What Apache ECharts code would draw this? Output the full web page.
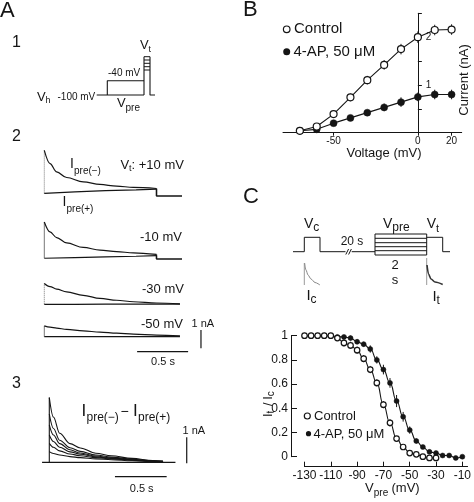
<!DOCTYPE html>
<html><head><meta charset="utf-8">
<script src="https://cdn.jsdelivr.net/npm/echarts@6/dist/echarts.min.js"></script>
<style>html,body{margin:0;padding:0;background:#fff}#c{width:474px;height:502px}</style>
</head><body><div id="c"></div>
<script>
const FONT = "'Liberation Sans', Arial, Helvetica, sans-serif";
const INK = '#151515';

// ---------- Panel B: I-V relation ----------
const ivVoltage = [-70, -60, -50, -40, -30, -20, -10, 0, 10, 20];
const ivControl = [0.04, 0.13, 0.39, 0.74, 1.10, 1.42, 1.75, 2.00, 2.15, 2.16];
const ivControlSem = [0.02, 0.03, 0.06, 0.08, 0.09, 0.10, 0.11, 0.12, 0.11, 0.11];
const iv4AP = [0.04, 0.07, 0.20, 0.31, 0.42, 0.53, 0.64, 0.75, 0.80, 0.80];
const iv4APSem = [0.02, 0.02, 0.04, 0.05, 0.06, 0.08, 0.10, 0.09, 0.10, 0.10];
const ivXTicks = [-50, 0, 20];
const ivYLabels = [1, 2];

// ---------- Panel C: steady-state inactivation ----------
const inactVoltage = [-130, -125, -120, -115, -110, -105, -100, -95, -90, -85, -80, -75, -70, -65, -60, -55, -50, -45, -40, -35, -30, -25, -20, -15, -10];
const inactControl = [1.0, 1.0, 1.0, 1.0, 1.0, 0.98, 0.94, 0.92, 0.88, 0.81, 0.72, 0.61, 0.43, 0.28, 0.15, 0.08, 0.03, 0.02, 0.0, -0.01, -0.01];
const inactControlSem = [0, 0, 0, 0, 0, 0.01, 0.03, 0.03, 0.03, 0.03, 0.03, 0.03, 0.03, 0.03, 0.02, 0.01, 0.01, 0, 0, 0, 0];
const inact4AP = [1.0, 1.0, 1.0, 1.0, 1.0, 0.99, 0.99, 0.98, 0.95, 0.93, 0.89, 0.80, 0.72, 0.61, 0.46, 0.33, 0.22, 0.13, 0.08, 0.04, 0.03, 0.01, 0.01, -0.01, 0.0];
const inact4APSem = [0, 0, 0, 0, 0, 0.01, 0.01, 0.02, 0.02, 0.02, 0.03, 0.03, 0.04, 0.04, 0.05, 0.04, 0.03, 0.02, 0.01, 0.01, 0.01, 0, 0, 0, 0];
const inactXTicks = [-130, -110, -90, -70, -50, -30, -10];

// ---------- Panel A2: raw traces (time s, current nA) ----------
const a2Time = [0, 0.056, 0.121, 0.219, 0.382, 0.546, 0.709, 0.873, 1.10];
const a2TimeLong = [0, 0.056, 0.121, 0.219, 0.382, 0.546, 0.709, 0.873, 1.10, 1.33];
const a2PlusTime = [0, 0.3, 0.6, 0.9, 1.10];
const a2PlusTimeLong = [0, 0.3, 0.6, 0.9, 1.33];
const a2MinusP10 = [2.49, 1.77, 1.32, 1.01, 0.77, 0.63, 0.54, 0.47, 0.41];
const a2PlusP10 = [0.14, 0.22, 0.29, 0.34, 0.38];
const a2MinusM10 = [2.02, 1.48, 1.17, 0.88, 0.63, 0.49, 0.40, 0.34, 0.25];
const a2PlusM10 = [0.04, 0.08, 0.12, 0.15, 0.18];
const a2MinusM30 = [1.14, 0.97, 0.83, 0.68, 0.49, 0.32, 0.22, 0.14, 0.07, 0.02];
const a2PlusM30 = [0.0, 0.0, 0.01, 0.01, 0.01];
const a2MinusM50 = [0.59, 0.52, 0.47, 0.40, 0.32, 0.25, 0.19, 0.14, 0.09, 0.04];
const a2PlusM50 = [0.0, 0.0, 0.0, 0.01, 0.0];
const a2StepTime = 1.10, a2EndTime = 1.35;
const a2ScaleTime = [0.91, 1.41];     // 0.5 s
const a2ScaleTimeLevel = -0.82;
const a2ScaleCurrent = [-0.63, 0.37]; // 1 nA
const a2ScaleCurrentTime = 1.536;

// ---------- Panel A3: difference traces ----------
const a3Time = [0, 0.04, 0.1, 0.2, 0.3, 0.45, 0.6, 0.8, 1.0, 1.1];
const a3Trace1 = [2.49, 1.74, 1.12, 0.72, 0.55, 0.35, 0.25, 0.15, 0.07, 0.05];
const a3Trace2 = [1.85, 1.30, 0.85, 0.56, 0.42, 0.28, 0.20, 0.12, 0.06, 0.04];
const a3Trace3 = [1.44, 1.05, 0.72, 0.48, 0.36, 0.24, 0.17, 0.10, 0.05, 0.03];
const a3Trace4 = [1.05, 0.80, 0.58, 0.40, 0.31, 0.21, 0.15, 0.09, 0.05, 0.03];
const a3Trace5 = [0.73, 0.58, 0.44, 0.32, 0.25, 0.18, 0.13, 0.08, 0.04, 0.02];
const a3Trace6 = [0.41, 0.34, 0.28, 0.22, 0.18, 0.13, 0.10, 0.06, 0.03, 0.02];
const a3BaselineTime = [-0.07, 1.22];
const a3ScaleTime = [0.635, 1.135];
const a3ScaleTimeLevel = -0.55;
const a3ScaleCurrent = [-0.04, 0.96];
const a3ScaleCurrentTime = 1.329;

// ---------- Protocol schematics (arbitrary schematic units) ----------
const a1Baseline = [[0.7, 0], [48, 0]];
const a1Prepulse = [[11.3, 0], [11.3, 14.3], [48, 14.3]];
const a1TestLeft = [[48, 0], [48, 38.3]];
const a1TestRight = [[54, 38.3], [54, 0], [59, 0]];
const a1TestLevels = [38.3, 35, 31.7, 28.3, 25];
const a1TestSpan = [48, 54];

const cProtoVc = [[3, 38.3], [14.3, 38.3], [14.3, 52.7], [30, 52.7], [30, 38.3], [55.5, 38.3]];
const cProtoGap = [[61.7, 38.3], [85, 38.3]];
const cBreakA = [[55.8, 35.5], [58.6, 41]];
const cBreakB = [[58.6, 35.5], [61.4, 41]];
const cVpreLevels = [56, 51.7, 47.3, 43.3, 39.3, 35];
const cVpreSpan = [85, 136.7];
const cProtoVt = [[136.7, 52.7], [152.7, 52.7], [152.7, 38.3], [160, 38.3]];
const cIcOnset = [[14.3, 5], [14.3, 27]];
const cIcDecay = [[14.6, 27], [16, 20], [18, 15], [21, 11], [25, 7.5], [30, 5]];
const cItOnset = [[136.7, 5], [136.7, 32]];
const cItDecay = [[137, 25], [138.5, 16], [141, 11], [145, 8], [152.7, 5.5]];

// ================= build =================
const zip = (xs, ys) => xs.map((x, i) => [x, ys[i]]);
const grid = [], xAxis = [], yAxis = [], series = [];

function hiddenGrid(g, xr, yr) {
  grid.push(g);
  const gi = grid.length - 1;
  xAxis.push({gridIndex: gi, type: 'value', min: xr[0], max: xr[1], show: false});
  yAxis.push({gridIndex: gi, type: 'value', min: yr[0], max: yr[1], show: false});
  return gi;
}
function lineS(ai, data, o) {
  o = o || {};
  const s = {type: 'line', xAxisIndex: ai, yAxisIndex: ai, data: data, symbol: 'none', silent: true, clip: false,
    smooth: o.smooth || false, animation: false,
    lineStyle: {color: o.color || INK, width: o.width || 1.1, type: o.dash || 'solid'}, z: o.z || 3};
  if (o.smooth) s.smoothMonotone = 'x';
  return s;
}
function markerS(ai, name, xs, ys, open, size, smooth, z) {
  return {type: 'line', name: name, xAxisIndex: ai, yAxisIndex: ai, data: zip(xs, ys), symbol: 'circle',
    symbolSize: size, showSymbol: true, showAllSymbol: true, smooth: smooth, smoothMonotone: smooth ? 'x' : undefined,
    clip: false, silent: true, animation: false,
    itemStyle: {color: open ? '#fff' : INK, borderColor: INK, borderWidth: open ? 1.2 : 0.5},
    lineStyle: {color: INK, width: 1.1}, z: z};
}
function errS(ai, xs, ys, es) {
  return {type: 'custom', xAxisIndex: ai, yAxisIndex: ai, silent: true, clip: false, z: 2, animation: false,
    data: xs.map((x, i) => [x, ys[i] - es[i], ys[i] + es[i]]),
    encode: {x: 0, y: [1, 2]},
    renderItem: function (params, api) {
      const a = api.coord([api.value(0), api.value(1)]);
      const b = api.coord([api.value(0), api.value(2)]);
      return {type: 'line', shape: {x1: a[0], y1: a[1], x2: b[0], y2: b[1]}, style: {stroke: INK, lineWidth: 1}};
    }};
}

// ---- grid 0: panel B ----
const bLeft = 283, bWidth = 178.7, bXMin = -80, bXMax = 26;
grid.push({left: bLeft, top: 13.3, width: bWidth, height: 119.4});
xAxis.push({gridIndex: 0, type: 'value', min: bXMin, max: bXMax,
  axisLine: {lineStyle: {color: INK, width: 1}},
  axisTick: {show: true, customValues: ivXTicks, length: 3, lineStyle: {color: INK}},
  axisLabel: {customValues: ivXTicks, fontSize: 10, fontFamily: FONT, color: INK, margin: 4},
  splitLine: {show: false}});
yAxis.push({gridIndex: 0, type: 'value', min: 0, max: 2.5, interval: 0.5, position: 'left',
  offset: -(0 - bXMin) * bWidth / (bXMax - bXMin),
  axisLine: {show: true, onZero: false, lineStyle: {color: INK, width: 1}},
  axisTick: {show: true, inside: true, length: 4, lineStyle: {color: INK}},
  axisLabel: {inside: true, margin: 8, fontSize: 10, fontFamily: FONT, color: INK,
    formatter: v => ivYLabels.indexOf(v) >= 0 ? String(v) : ''},
  splitLine: {show: false}});
series.push(errS(0, ivVoltage, iv4AP, iv4APSem));
series.push(errS(0, ivVoltage, ivControl, ivControlSem));
series.push(markerS(0, '4-AP, 50 μM', ivVoltage, iv4AP, false, 7, false, 4));
series.push(markerS(0, 'Control', ivVoltage, ivControl, true, 7, false, 5));

// ---- grid 1: panel C inactivation ----
grid.push({left: 304.5, top: 335.7, width: 170.5, height: 121});
xAxis.push({gridIndex: 1, type: 'value', min: -130, max: -6, offset: 10,
  axisLine: {onZero: false, lineStyle: {color: INK, width: 1}},
  axisTick: {show: true, inside: true, length: 5, customValues: inactXTicks, lineStyle: {color: INK}},
  axisLabel: {customValues: inactXTicks, fontSize: 12, fontFamily: FONT, color: INK, margin: 3},
  splitLine: {show: false}});
yAxis.push({gridIndex: 1, type: 'value', min: 0, max: 1, interval: 0.2, offset: 13.5,
  axisLine: {show: true, onZero: false, lineStyle: {color: INK, width: 1}},
  axisTick: {show: true, inside: true, length: 6, lineStyle: {color: INK}},
  axisLabel: {margin: 3, fontSize: 12, fontFamily: FONT, color: INK,
    formatter: v => (v === 0 ? '0' : v === 1 ? '1' : v.toFixed(1))},
  splitLine: {show: false}});
series.push(errS(1, inactVoltage, inact4AP, inact4APSem));
series.push(errS(1, inactVoltage.slice(0, inactControl.length), inactControl, inactControlSem));
series.push(markerS(1, '4-AP, 50 μM', inactVoltage, inact4AP, false, 5, true, 4));
series.push(markerS(1, 'Control', inactVoltage.slice(0, inactControl.length), inactControl, true, 5.5, true, 5));

// ---- grids 2-5: panel A2 traces ----
const a2Zero = [196, 259, 304.3, 336.7];
const a2PxPerNA = 18.3;
const a2Idx = a2Zero.map(z => hiddenGrid({left: 39.2, top: z - 2.6 * a2PxPerNA, width: 168.3, height: 3.6 * a2PxPerNA}, [-0.05, 1.6], [-1, 2.6]));
function a2Group(ai, minus, plus, longTrace, onsetDash) {
  const tm = longTrace ? a2TimeLong : a2Time;
  const tp = longTrace ? a2PlusTimeLong : a2PlusTime;
  series.push(lineS(ai, [[0, plus[0]], [0, minus[0]]], {color: '#777', width: 1, dash: onsetDash ? 'dotted' : 'solid'}));
  series.push(lineS(ai, zip(tm, minus), {smooth: 0.35, width: 1.2}));
  series.push(lineS(ai, zip(tp, plus), {width: 1.2}));
  if (!longTrace) {
    series.push(lineS(ai, [[a2StepTime, minus[minus.length - 1]], [a2StepTime, 0], [a2EndTime, 0]], {width: 1.4}));
    series.push(lineS(ai, [[a2StepTime, plus[plus.length - 1]], [a2StepTime, 0]], {width: 1.2}));
  }
}
a2Group(a2Idx[0], a2MinusP10, a2PlusP10, false, true);
a2Group(a2Idx[1], a2MinusM10, a2PlusM10, false, false);
a2Group(a2Idx[2], a2MinusM30, a2PlusM30, true, true);
a2Group(a2Idx[3], a2MinusM50, a2PlusM50, true, false);
series.push(lineS(a2Idx[3], [[a2ScaleTime[0], a2ScaleTimeLevel], [a2ScaleTime[1], a2ScaleTimeLevel]], {width: 1.2}));
series.push(lineS(a2Idx[3], [[a2ScaleCurrentTime, a2ScaleCurrent[0]], [a2ScaleCurrentTime, a2ScaleCurrent[1]]], {width: 1.2}));

// ---- grid 6: panel A3 ----
const a3Px = 26;
const a3 = hiddenGrid({left: 49.3 - 0.08 * 103.4, top: 462.3 - 2.6 * a3Px, width: 1.48 * 103.4, height: 3.3 * a3Px}, [-0.08, 1.4], [-0.7, 2.6]);
series.push(lineS(a3, [[a3BaselineTime[0], 0], [a3BaselineTime[1], 0]], {width: 1.2}));
series.push(lineS(a3, [[0, 0], [0, a3Trace1[0]]], {width: 1.1}));
[a3Trace1, a3Trace2, a3Trace3, a3Trace4, a3Trace5, a3Trace6].forEach(t => series.push(lineS(a3, zip(a3Time, t), {smooth: 0.35, width: 1.1})));
series.push(lineS(a3, [[a3ScaleTime[0], a3ScaleTimeLevel], [a3ScaleTime[1], a3ScaleTimeLevel]], {width: 1.2}));
series.push(lineS(a3, [[a3ScaleCurrentTime, a3ScaleCurrent[0]], [a3ScaleCurrentTime, a3ScaleCurrent[1]]], {width: 1.2}));

// ---- grid 7: panel A1 protocol ----
const a1 = hiddenGrid({left: 96, top: 54, width: 64, height: 41}, [0, 64], [0, 41]);
series.push(lineS(a1, a1Baseline, {width: 1.1}));
series.push(lineS(a1, a1Prepulse, {width: 1.1}));
series.push(lineS(a1, a1TestLeft, {width: 1.1}));
series.push(lineS(a1, a1TestRight, {width: 1.1}));
a1TestLevels.forEach(l => series.push(lineS(a1, [[a1TestSpan[0], l], [a1TestSpan[1], l]], {width: 1})));

// ---- grid 8: panel C protocol ----
const cp = hiddenGrid({left: 290, top: 230, width: 165, height: 60}, [0, 165], [0, 60]);
series.push(lineS(cp, cProtoVc, {width: 1}));
series.push(lineS(cp, cProtoGap, {width: 1}));
series.push(lineS(cp, cBreakA, {width: 1}));
series.push(lineS(cp, cBreakB, {width: 1}));
cVpreLevels.forEach(l => series.push(lineS(cp, [[cVpreSpan[0], l], [cVpreSpan[1], l]], {width: 1})));
series.push(lineS(cp, [[cVpreSpan[0], cVpreLevels[5]], [cVpreSpan[0], cVpreLevels[0]]], {width: 1}));
series.push(lineS(cp, [[cVpreSpan[1], cVpreLevels[5]], [cVpreSpan[1], cVpreLevels[0]]], {width: 1}));
series.push(lineS(cp, cProtoVt, {width: 1}));
series.push(lineS(cp, cIcOnset, {width: 1, color: '#999'}));
series.push(lineS(cp, cIcDecay, {width: 1, color: '#888', smooth: 0.3}));
series.push(lineS(cp, cItOnset, {width: 1, color: '#999'}));
series.push(lineS(cp, cItDecay, {width: 1.6, color: '#333', smooth: 0.3}));

// ---------- text ----------
function T(x, y, s, size, align, extra) {
  const e = {type: 'text', x: x, y: y, z: 100, silent: true,
    style: {text: s, fontSize: size, fontFamily: FONT, fill: INK,
      align: align || 'left', textAlign: align || 'left', verticalAlign: 'middle', textVerticalAlign: 'middle'}};
  if (extra) Object.assign(e, extra);
  return e;
}
function dot(x, y, r, open) {
  return {type: 'circle', z: 100, silent: true, shape: {cx: x, cy: y, r: r},
    style: {fill: open ? '#fff' : INK, stroke: INK, lineWidth: open ? 1.2 : 0}};
}
const els = [
  T(0, 11, 'A', 22), T(243, 10, 'B', 22), T(243, 197, 'C', 22),
  T(12, 43, '1', 16), T(12, 137, '2', 16), T(12, 384, '3', 16),
  // A1
  T(37, 97, 'V', 13), T(45.5, 101, 'h', 9),
  T(57.5, 97, '-100 mV', 10), T(108, 73, '-40 mV', 10),
  T(117, 103, 'V', 13), T(125.5, 108, 'pre', 10),
  T(140, 45, 'V', 13), T(148.5, 49.5, 't', 9),
  // A2
  T(70, 164, 'I', 14), T(74, 171, 'pre(−)', 10),
  T(120.5, 165, 'V', 13), T(129, 169, 't', 9), T(131.5, 165, ': +10 mV', 13),
  T(62.5, 202.5, 'I', 14), T(66.5, 209, 'pre(+)', 10),
  T(140, 237.5, '-10 mV', 13), T(142, 289.5, '-30 mV', 13), T(141, 324, '-50 mV', 13),
  T(191.5, 324, '1 nA', 11), T(163, 362, '0.5 s', 11, 'center'),
  // A3
  T(81.5, 411.5, 'I', 17), T(86.5, 417.5, 'pre(−)', 12), T(120.5, 412, '−', 14),
  T(133, 411.5, 'I', 17), T(138, 417.5, 'pre(+)', 12),
  T(182.5, 430.7, '1 nA', 11), T(141.7, 489.3, '0.5 s', 11, 'center'),
  // B
  T(384, 153, 'Voltage (mV)', 13, 'center'),
  T(464, 80, 'Current (nA)', 13, 'center', {rotation: Math.PI / 2}),
  dot(286.7, 29.3, 3.3, true), T(294, 29.3, 'Control', 15),
  dot(286.7, 51.7, 3.5, false), T(293.5, 52, '4-AP, 50 μM', 15),
  // C protocol
  T(304, 224, 'V', 14), T(313.3, 228, 'c', 12),
  T(352, 241.5, '20 s', 12, 'center'),
  T(383, 224, 'V', 14), T(392.3, 227.5, 'pre', 12),
  T(426.7, 224, 'V', 14), T(436, 228.5, 't', 11),
  T(395, 265, '2', 13, 'center'), T(395, 280, 's', 13, 'center'),
  T(306.5, 296, 'I', 15), T(310.5, 300, 'c', 12),
  T(432.5, 297, 'I', 15), T(436.5, 301, 't', 12),
  // C inactivation
  {type: 'group', x: 268, y: 404, rotation: Math.PI / 2, children: [
    T(-13, 0, 'I', 13), T(-9.4, 3.5, 't', 10), T(-5.5, 0, ' / ', 13), T(4.2, 0, 'I', 13), T(7.8, 3.5, 'c', 10)
  ]},
  T(365, 488.5, 'V', 13), T(373.8, 493.5, 'pre', 10), T(391.5, 488.5, '(mV)', 13),
  dot(307.3, 416, 3, true), T(314, 416, 'Control', 13),
  dot(308.5, 433.7, 2.6, false), T(313.5, 434, '4-AP, 50 μM', 13)
];

const chart = echarts.init(document.getElementById('c'), null, {renderer: 'canvas'});
chart.setOption({
  animation: false,
  backgroundColor: '#fff',
  grid: grid, xAxis: xAxis, yAxis: yAxis, series: series,
  graphic: {elements: els}
});
</script></body></html>
